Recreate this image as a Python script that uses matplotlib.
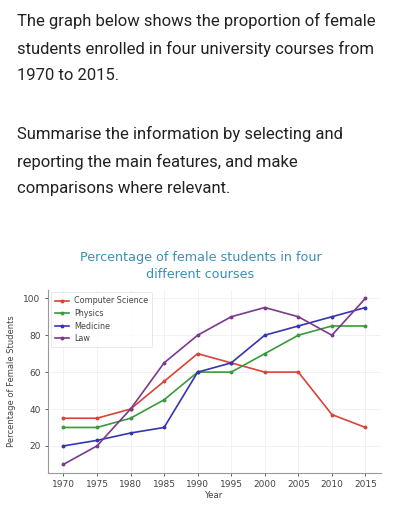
import matplotlib
matplotlib.use("Agg")
import matplotlib.pyplot as plt

years = [1970, 1975, 1980, 1985, 1990, 1995, 2000, 2005, 2010, 2015]
computer_science = [35, 35, 40, 55, 70, 65, 60, 60, 37, 30]
physics = [30, 30, 35, 45, 60, 60, 70, 80, 85, 85]
medicine = [20, 23, 27, 30, 60, 65, 80, 85, 90, 95]
law = [10, 20, 40, 65, 80, 90, 95, 90, 80, 100]
series_names = ["Computer Science", "Physics", "Medicine", "Law"]
colors = ["#d6443a", "#3a9a3a", "#3535b0", "#7b3a8c"]
y_ticks = [20, 40, 60, 80, 100]

fig = plt.figure(figsize=(4.01, 5.12), dpi=100)

header1 = ("The graph below shows the proportion of female\n"
           "students enrolled in four university courses from\n"
           "1970 to 2015.")
header2 = ("Summarise the information by selecting and\n"
           "reporting the main features, and make\n"
           "comparisons where relevant.")
fig.text(0.042, 1 - 13/512, header1, fontsize=12, family="Roboto", color="#222222",
         va="top", ha="left", linespacing=1.9)
fig.text(0.042, 1 - 126/512, header2, fontsize=12, family="Roboto", color="#222222",
         va="top", ha="left", linespacing=1.9)

fig.text(0.5, 1 - 266/512, "Percentage of female students in four\ndifferent courses",
         fontsize=9.2, color="#3a8fb5", ha="center", va="center", linespacing=1.3)

ax = fig.add_axes([0.1205, 0.0768, 0.8285, 0.3568])
for vals, name, c in zip([computer_science, physics, medicine, law], series_names, colors):
    ax.plot(years, vals, color=c, lw=1.2, marker="o", markersize=1.8, label=name)

ax.set_xticks(years)
ax.set_yticks(y_ticks)
ax.tick_params(labelsize=6.5, colors="#444444", length=2, width=0.6)
ax.grid(True, color="#f0f0f0", lw=0.6)
ax.set_axisbelow(True)
for s in ["top", "right"]:
    ax.spines[s].set_visible(False)
for s in ["left", "bottom"]:
    ax.spines[s].set_color("#999999")
    ax.spines[s].set_linewidth(0.8)
ax.set_xlabel("Year", fontsize=6.2, color="#444444", labelpad=1)
ax.set_ylabel("Percentage of Female Students", fontsize=6.0, color="#444444", labelpad=5)
leg = ax.legend(loc="upper left", fontsize=5.8, frameon=True, handlelength=1.8,
                borderpad=0.5, labelspacing=0.45, borderaxespad=0.3, handletextpad=0.6)
leg.get_frame().set_edgecolor("#dddddd")
leg.get_frame().set_linewidth(0.6)
for t in leg.get_texts():
    t.set_color("#444444")

fig.savefig("out.png", dpi=100)
